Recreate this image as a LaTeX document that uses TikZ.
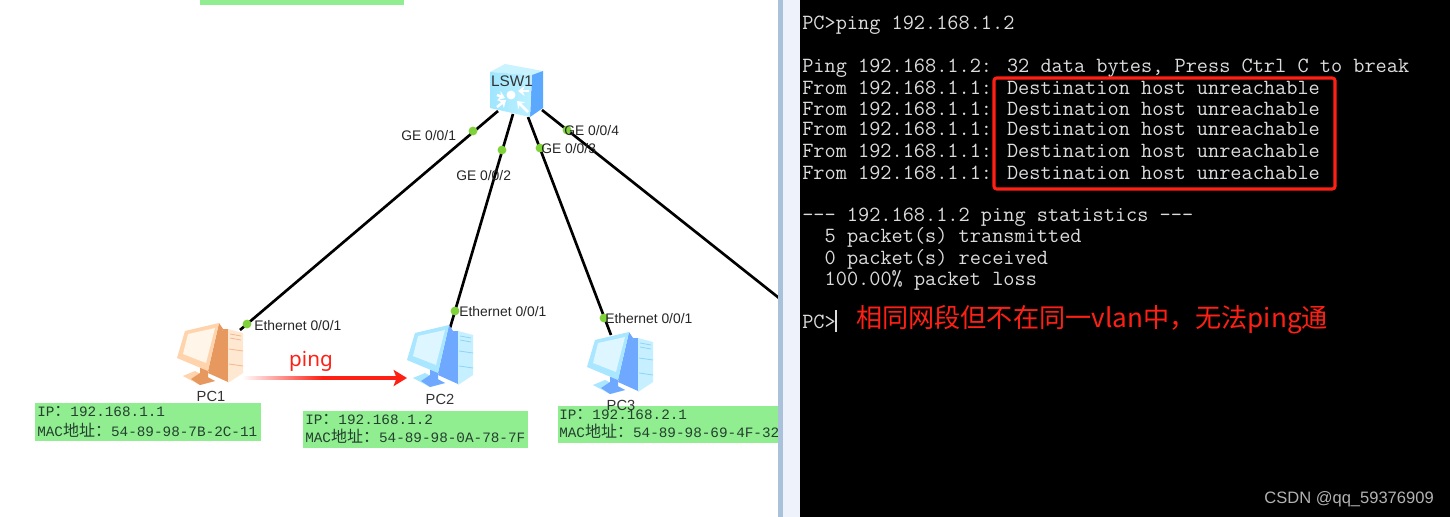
\documentclass[tikz,border=0pt]{standalone}
\usepackage{fontspec}
\setmainfont{Liberation Sans}
\newfontfamily\cjkfont{Noto Sans CJK SC}
\newfontfamily\labmono{Liberation Mono}
\newfontfamily\pingfont{Noto Sans}
\usetikzlibrary{arrows.meta}
\definecolor{lgreen}{HTML}{90EE90}
\definecolor{portgreen}{HTML}{7FD23A}
\definecolor{labtext}{HTML}{24402F}
\definecolor{termtext}{HTML}{DCDCDC}
\definecolor{redmark}{HTML}{FF2015}
\definecolor{swtop}{HTML}{C8F3FF}
\definecolor{swfronta}{HTML}{9FE6FF}
\definecolor{swfrontb}{HTML}{BDF1FF}
\definecolor{swside}{HTML}{5BA8FF}
\definecolor{edgea}{HTML}{A9C2DA}
\definecolor{edgeb}{HTML}{EEF3FB}
\tikzset{
  x=0.75pt,y=-0.75pt,
  greenbox/.style={fill=lgreen,draw=none},
  link/.style={draw=black,line width=2pt},
  port/.style={circle,fill=portgreen,draw=none,inner sep=0pt,minimum size=6.6pt},
  portlab/.style={anchor=west,inner sep=0pt,text=black!85,font=\fontsize{10.4}{11}\selectfont},
  pclab/.style={inner sep=0pt,text=black!80,font=\fontsize{11}{12}\selectfont},
  labline/.style={anchor=base west,inner sep=0pt,text=labtext,font=\labmono\fontsize{10.75}{12}\selectfont},
  term/.style={anchor=base west,inner sep=0pt,text=termtext,font=\ttfamily\fontsize{16.27}{16}\selectfont\addfontfeature{FakeBold=0.25}},
  swarrow/.style={white,line width=1.9pt,-{Stealth[length=5pt,width=7.5pt]}},
  pcblue/.code={\definecolor{pcpale}{HTML}{DDF6FF}\definecolor{pcframe}{HTML}{A9E6FF}\definecolor{pcdark}{HTML}{6FA8FF}\definecolor{pcfront}{HTML}{C6F0FF}\definecolor{pcline}{HTML}{8FD4F8}},
  pcorange/.code={\definecolor{pcpale}{HTML}{FFF5E8}\definecolor{pcframe}{HTML}{FFD3AC}\definecolor{pcdark}{HTML}{E7985F}\definecolor{pcfront}{HTML}{FFE8D2}\definecolor{pcline}{HTML}{F2B88C}},
  pcicon/.pic={
    % base and neck
    \fill[pcframe] (5,55) -- (17,50) -- (37,60) -- (22,64) -- cycle;
    \fill[pcdark] (13,58) -- (22,52) -- (37,60) -- (22,64) -- cycle;
    \fill[pcdark] (22,47) -- (30,47) -- (30,62) -- (22,58) -- cycle;
    % tower
    \fill[pcdark] (45,8) -- (50,8) -- (50,61) -- (30,52) -- cycle;
    \fill[pcfront] (50,8) -- (65,12) -- (65,52) -- (50,62) -- cycle;
    \draw[pcline,line width=0.6pt] (52,13) -- (63,15) (52,17) -- (63,19) (51,28) -- (65,30) (51,43) -- (65,45);
    % monitor
    \fill[pcdark] (41,2) -- (45,8) -- (34,51) -- (30,50) -- cycle;
    \fill[pcframe] (7,10) -- (41,2) -- (30,50) -- (-1,37) -- cycle;
    \fill[pcpale] (10,13) -- (37,7) -- (28,42) -- (5,33) -- cycle;
  },
}
\begin{document}
\begin{tikzpicture}
\useasboundingbox (0,0) rectangle (1450,517);
\fill[white] (0,0) rectangle (1450,517);
% top green strip
\fill[greenbox] (200,0) rectangle (404,5);
% connector ends
\coordinate (s1) at (498,111);
\coordinate (s2) at (513,114);
\coordinate (s3) at (528,117);
\coordinate (s4) at (542,110);
\coordinate (p1) at (240,330);
\coordinate (p2) at (450,328);
\coordinate (p3) at (611,335);
\coordinate (e4) at (779,298);
\draw[link] (s1) -- (p1);
\draw[link] (s2) -- (p2);
\draw[link] (s3) -- (p3);
\draw[link] (s4) -- (e4);
% switch
\fill[swtop] (490,72) -- (505,64) -- (543,71) -- (532,75) -- cycle;
\fill[swside] (532,75) -- (543,71) -- (543,108) -- (530,117) -- cycle;
\shade[left color=swfronta,right color=swfrontb] (490,72) -- (532,75) -- (530,117) -- (490,108) -- cycle;
\fill[white] (511,95) circle (4.5);
\draw[swarrow] (497,107) -- (506,100);
\draw[swarrow] (528,112) -- (517,101);
\draw[swarrow] (497,95) -- (505,98);
\draw[swarrow] (529,91) -- (518,91);
\node[pclab,font=\fontsize{11.5}{12}\selectfont] (lsw) at (512,81) {LSW1};
% ports
\node[port] (d1) at (473,131) {};
\node[port] (d2) at (502,150) {};
\node[port] (d3) at (540,148) {};
\node[port] (d4) at (567,130) {};
\node[port] (d5) at (247,324) {};
\node[port] (d6) at (455,311) {};
\node[port] (d7) at (604,318) {};
\node[portlab] (g1) at (401,136) {GE 0/0/1};
\node[portlab] (g2) at (456,176) {GE 0/0/2};
\node[portlab] (g3) at (541,149) {GE 0/0/3};
\node[portlab] (g4) at (564,131) {GE 0/0/4};
\node[portlab] (e1) at (254,326) {Ethernet 0/0/1};
\node[portlab] (e2) at (459,312) {Ethernet 0/0/1};
\node[portlab] (e3) at (605,319) {Ethernet 0/0/1};
% PCs
\pic[pcorange] at (178,321) {pcicon};
\pic[pcblue] at (408,323) {pcicon};
\pic[pcblue] at (588,330) {pcicon};
\node[pclab] (pc1) at (211,396) {PC1};
\node[pclab] (pc2) at (440,399) {PC2};
% green labels
\fill[greenbox] (35,403) rectangle (261,441);
\fill[greenbox] (303,411) rectangle (528,448);
\fill[greenbox] (558,406) rectangle (779,443);
\node[labline] (a1) at (37,416) {IP{\cjkfont\fontsize{12}{12}\selectfont ：}192.168.1.1};
\node[labline] (b1) at (37,436) {MAC{\cjkfont\fontsize{12}{12}\selectfont 地址：}54-89-98-7B-2C-11};
\node[labline] (a2) at (305,424) {IP{\cjkfont\fontsize{12}{12}\selectfont ：}192.168.1.2};
\node[labline] (b2) at (305,442) {MAC{\cjkfont\fontsize{12}{12}\selectfont 地址：}54-89-98-0A-78-7F};
\node[labline] (a3) at (559,419) {IP{\cjkfont\fontsize{12}{12}\selectfont ：}192.168.2.1};
\node[labline] (b3) at (559,437) {MAC{\cjkfont\fontsize{12}{12}\selectfont 地址：}54-89-98-69-4F-32};
\node[pclab] (pc3) at (621,405) {PC3};
% ping arrow
\coordinate (a) at (243,378);
\coordinate (b) at (407,378);
\draw[redmark,line width=2.4pt,-{Stealth[length=10pt,width=12pt,inset=2.2pt]}] (a) -- (b);
\shade[left color=white,right color=redmark,draw=none] (242,376.35) rectangle (322,379.65);
\node[inner sep=0pt,text=redmark,font=\pingfont\fontsize{15.5}{16}\selectfont] (pingl) at (311,361) {ping};
% window edge
\fill[edgea] (778,0) rectangle (783,517);
\fill[edgeb] (783,0) rectangle (800,517);
\fill[black] (800,0) rectangle (1450,517);
% terminal
\node[term] (t1) at (802,30) {PC>ping 192.168.1.2};
\node[term] (t2) at (802,72.5) {Ping 192.168.1.2: 32 data bytes, Press Ctrl C to break};
\node[term] (t3) at (802,94) {From 192.168.1.1: Destination host unreachable};
\node[term] (t4) at (802,115) {From 192.168.1.1: Destination host unreachable};
\node[term] (t5) at (802,136) {From 192.168.1.1: Destination host unreachable};
\node[term] (t6) at (802,157.5) {From 192.168.1.1: Destination host unreachable};
\node[term] (t7) at (802,179) {From 192.168.1.1: Destination host unreachable};
\node[term] (t8) at (802,221) {{-}{-}{-} 192.168.1.2 ping statistics {-}{-}{-}};
\node[term] (t9) at (824.4,242.5) {5 packet(s) transmitted};
\node[term] (t10) at (824.4,264) {0 packet(s) received};
\node[term] (t11) at (824.4,285) {100.00\% packet loss};
\node[term] (t12) at (802,328) {PC>};
\draw[termtext,line width=0.9pt] (836,310) -- (836,332);
\draw[redmark,line width=2.3pt,rounded corners=2pt] (994,78) rectangle (1335,189);
\node[anchor=base west,inner sep=0pt,text=redmark,font=\cjkfont\fontsize{19.6}{20}\selectfont] (note) at (856,327) {相同网段但不在同一vlan中，无法ping通};
\node[anchor=base east,inner sep=0pt,text=black!30,font=\fontsize{12.4}{13}\selectfont] (wm) at (1434,503) {CSDN @qq\_59376909};
\end{tikzpicture}
\end{document}
